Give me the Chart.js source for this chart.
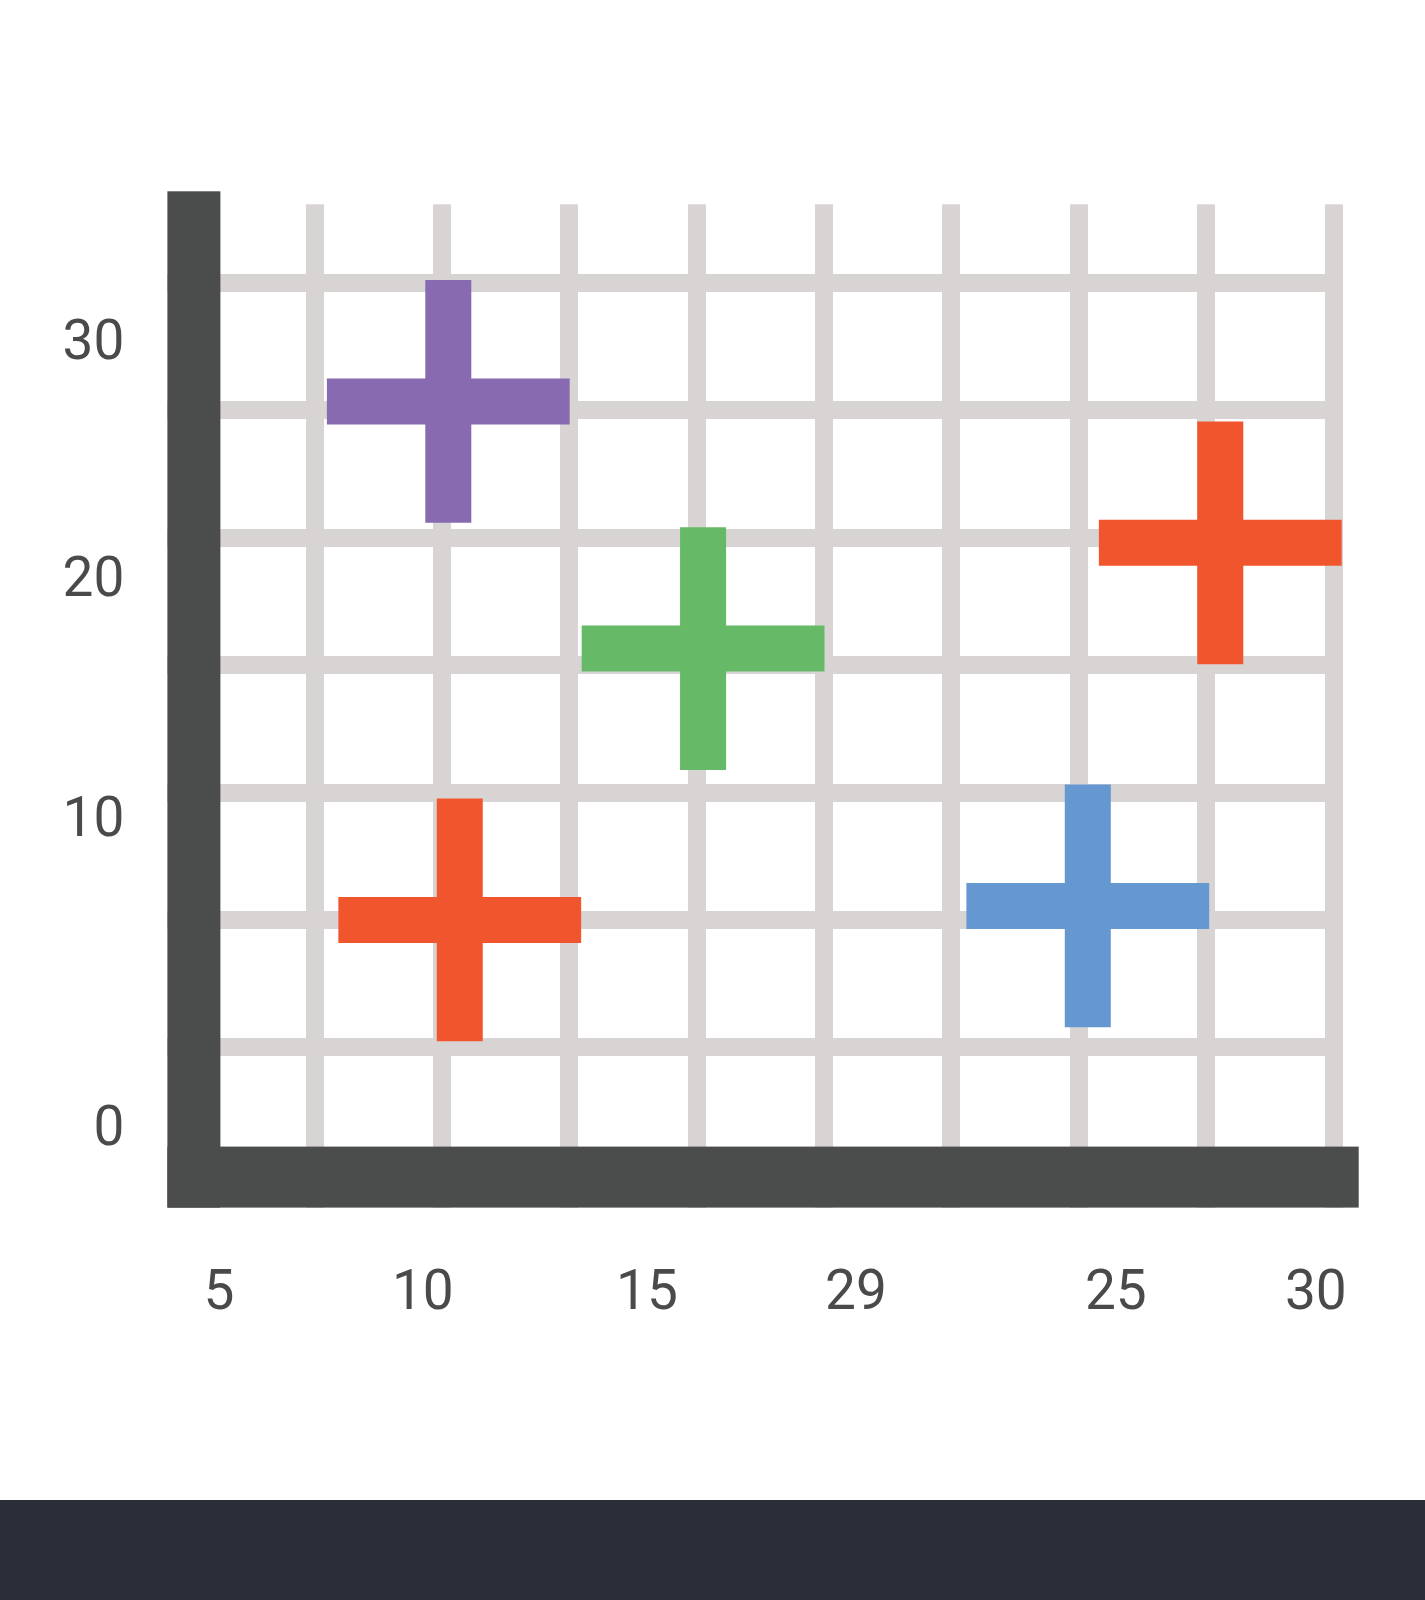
<!DOCTYPE html>
<html>
<head>
<meta charset="utf-8">
<script src="https://cdn.jsdelivr.net/npm/chart.js@4.4.1/dist/chart.umd.min.js"></script>
<style>
  body { margin: 0; background: #fff; }
  #wrap { width: 1425px; height: 1500px; }
  #footer { width: 1425px; height: 100px; background: #292e38; }
</style>
</head>
<body>
<div id="wrap"><canvas id="plot" width="1425" height="1500"></canvas></div>
<div id="footer"></div>
<script>
// marker centres, in grid squares from the axis corner
const markerX = [2.05, 4.05, 8.11, 2.14, 7.07];
const markerY = [6.07, 4.13, 4.96, 2.00, 2.11];
const markerColors = ['#876ab0', '#65b967', '#f1552e', '#f1552e', '#6597d0'];

// grid lines
const gridCols = [1, 2, 3, 4, 5, 6, 7, 8, 9];
const gridRows = [1, 2, 3, 4, 5, 6, 7];

// tick labels (they don't line up with the grid in the original)
const xTickLabels = ['5', '10', '15', '29', '25', '30'];
const xTickAt = [0.25, 1.85, 3.61, 5.25, 7.29, 8.86];
const yTickLabels = ['0', '10', '20', '30'];
const yTickAt = [0.34, 2.77, 4.65, 6.51];

const gridColor = '#d8d4d4';
const axisColor = '#4b4d4c';
const textColor = '#4a4a4a';

const X_MIN = -0.155, X_MAX = 9.071;
const Y_MIN = -0.258, Y_MAX = 7.617;

Chart.defaults.font.family = 'Roboto';

// thick dark axes drawn over the grid
const axesBars = {
    id: 'axesBars',
    afterDatasetsDraw(chart) {
        const {ctx, chartArea: a} = chart;
        ctx.save();
        ctx.fillStyle = axisColor;
        ctx.fillRect(a.left, a.top - 13, 53, a.bottom - a.top + 13);
        ctx.fillRect(a.left, a.bottom - 61, a.right - a.left + 16, 61);
        ctx.restore();
    }
};

// fixed box sizes so the plot area lands where the original has it
function fixSize(w, h) {
    return s => {
        if (w !== null) s.width = w;
        if (h !== null) s.height = h;
        s.paddingLeft = s.paddingRight = s.paddingTop = s.paddingBottom = 0;
    };
}

const tickFont = { size: 55, family: 'Roboto' };

new Chart(document.getElementById('plot'), {
    type: 'scatter',
    data: {
        datasets: [{
            data: markerX.map((x, i) => ({ x: x, y: markerY[i] })),
            pointStyle: 'cross',
            pointRadius: 121.4,
            pointBorderWidth: 46,
            pointBorderColor: markerColors,
            pointBackgroundColor: markerColors,
            clip: false
        }]
    },
    options: {
        responsive: false,
        animation: false,
        events: [],
        layout: {
            autoPadding: false,
            padding: { top: 204.3, right: 82.3, left: 0, bottom: 0 }
        },
        plugins: {
            legend: { display: false },
            tooltip: { enabled: false }
        },
        scales: {
            x: {
                type: 'linear', position: 'bottom', min: X_MIN, max: X_MAX,
                afterBuildTicks: s => { s.ticks = gridCols.map(v => ({ value: v })); },
                afterFit: fixSize(null, 0),
                grid: { color: gridColor, lineWidth: 18, drawTicks: false },
                border: { display: false },
                ticks: { display: false }
            },
            y: {
                type: 'linear', position: 'left', min: Y_MIN, max: Y_MAX,
                afterBuildTicks: s => { s.ticks = gridRows.map(v => ({ value: v })); },
                afterFit: fixSize(0, null),
                grid: { color: gridColor, lineWidth: 18, drawTicks: false },
                border: { display: false },
                ticks: { display: false }
            },
            xl: {
                type: 'linear', position: 'bottom', min: X_MIN, max: X_MAX,
                afterBuildTicks: s => { s.ticks = xTickAt.map(v => ({ value: v })); },
                afterFit: fixSize(null, 292.4),
                grid: { display: false, drawTicks: false },
                border: { display: false },
                ticks: {
                    autoSkip: false, maxRotation: 0, padding: 55,
                    color: textColor, font: tickFont,
                    callback: (v, i) => xTickLabels[i]
                }
            },
            yl: {
                type: 'linear', position: 'left', min: Y_MIN, max: Y_MAX,
                afterBuildTicks: s => { s.ticks = yTickAt.map(v => ({ value: v })); },
                afterFit: fixSize(167.4, null),
                grid: { display: false, drawTicks: false },
                border: { display: false },
                ticks: {
                    autoSkip: false, padding: 43,
                    color: textColor, font: tickFont,
                    callback: (v, i) => yTickLabels[i]
                }
            }
        }
    },
    plugins: [axesBars]
});
</script>
</body>
</html>
